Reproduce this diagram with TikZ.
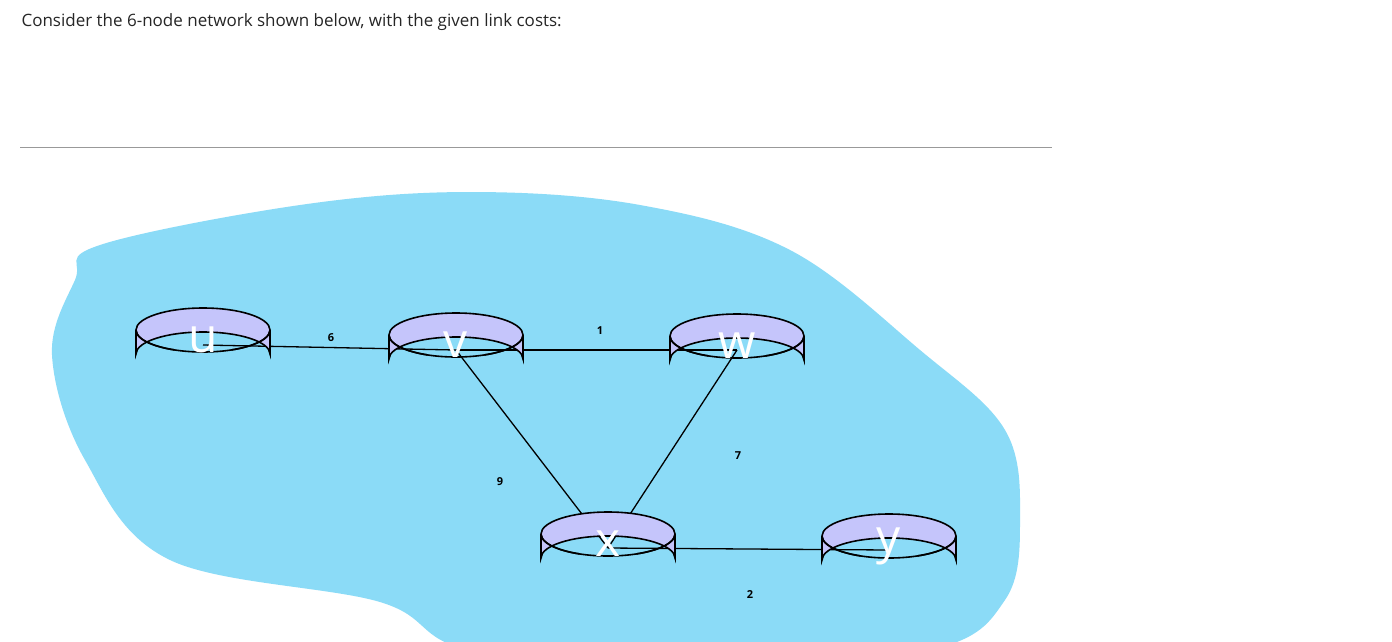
\documentclass[tikz,border=0pt]{standalone}
\usepackage{fontspec}
\setmainfont{Open Sans}
\begin{document}
\begin{tikzpicture}[x=1pt,y=-1pt,
  link/.style={line width=1.3pt,black},
  cost/.style={font=\fontsize{11}{12}\selectfont\bfseries},
  rtr/.pic={
    \fill[rfill] (-67,0) -- (-67,24) arc[start angle=180,end angle=360,x radius=67,y radius=22] -- (67,0) arc[start angle=0,end angle=-180,x radius=67,y radius=22] -- cycle;
    \draw[line width=1.6pt] (-67,0) arc[start angle=180,end angle=-180,x radius=67,y radius=22];
    \draw[line width=1.6pt] (-67,0) -- (-67,24) arc[start angle=180,end angle=360,x radius=67,y radius=22] -- (67,0);
    \draw[line width=1.6pt] (-67,0) arc[start angle=180,end angle=245,x radius=67,y radius=-22];
    \draw[line width=1.6pt] (67,0) arc[start angle=0,end angle=-65,x radius=67,y radius=-22];
    \node[white,font=\fontsize{48}{48}\selectfont] at (0,10) {\tikzpictext};
  }]
\definecolor{cloud}{HTML}{8BDBF7}
\definecolor{rfill}{HTML}{C5C5FB}
\useasboundingbox (0,0) rectangle (1392,641);
\fill[white] (0,0) rectangle (1392,641);
\node[anchor=west,font=\fontsize{17}{20}\selectfont,text=black!85] (title) at (18,22) {Consider the 6-node network shown below, with the given link costs:};
\draw[gray!80,line width=0.8pt] (20,147) -- (1052,147);
\begin{scope}
\clip (0,0) rectangle (1392,641);
\fill[cloud] plot[smooth cycle,tension=0.6] coordinates {(100,245) (300,205) (470,192) (640,205) (790,250) (920,350) (1005,430) (1020,520) (1005,600) (930,650) (700,670) (470,650) (380,602) (170,560) (85,460) (52,355) (75,280)};
\end{scope}
\coordinate (u) at (203,345);
\coordinate (v) at (456,350);
\coordinate (w) at (737,350);
\coordinate (x) at (608,548);
\coordinate (y) at (889,550);
\draw[link] (u) -- (v);
\draw[link] (v) -- (w);
\draw[link] (v) -- (x);
\draw[link] (w) -- (x);
\draw[link] (x) -- (y);
\pic[pic text=u] at (203,330) {rtr};
\pic[pic text=v] at (456,335) {rtr};
\pic[pic text=w] at (737,336) {rtr};
\pic[pic text=x] at (608,534) {rtr};
\pic[pic text=y] at (889,536) {rtr};
\node[cost] (c6) at (331,338) {6};
\node[cost] (c1) at (600,331) {1};
\node[cost] (c9) at (500,482) {9};
\node[cost] (c7) at (738,456) {7};
\node[cost] (c2) at (750,595) {2};
\end{tikzpicture}
\end{document}
